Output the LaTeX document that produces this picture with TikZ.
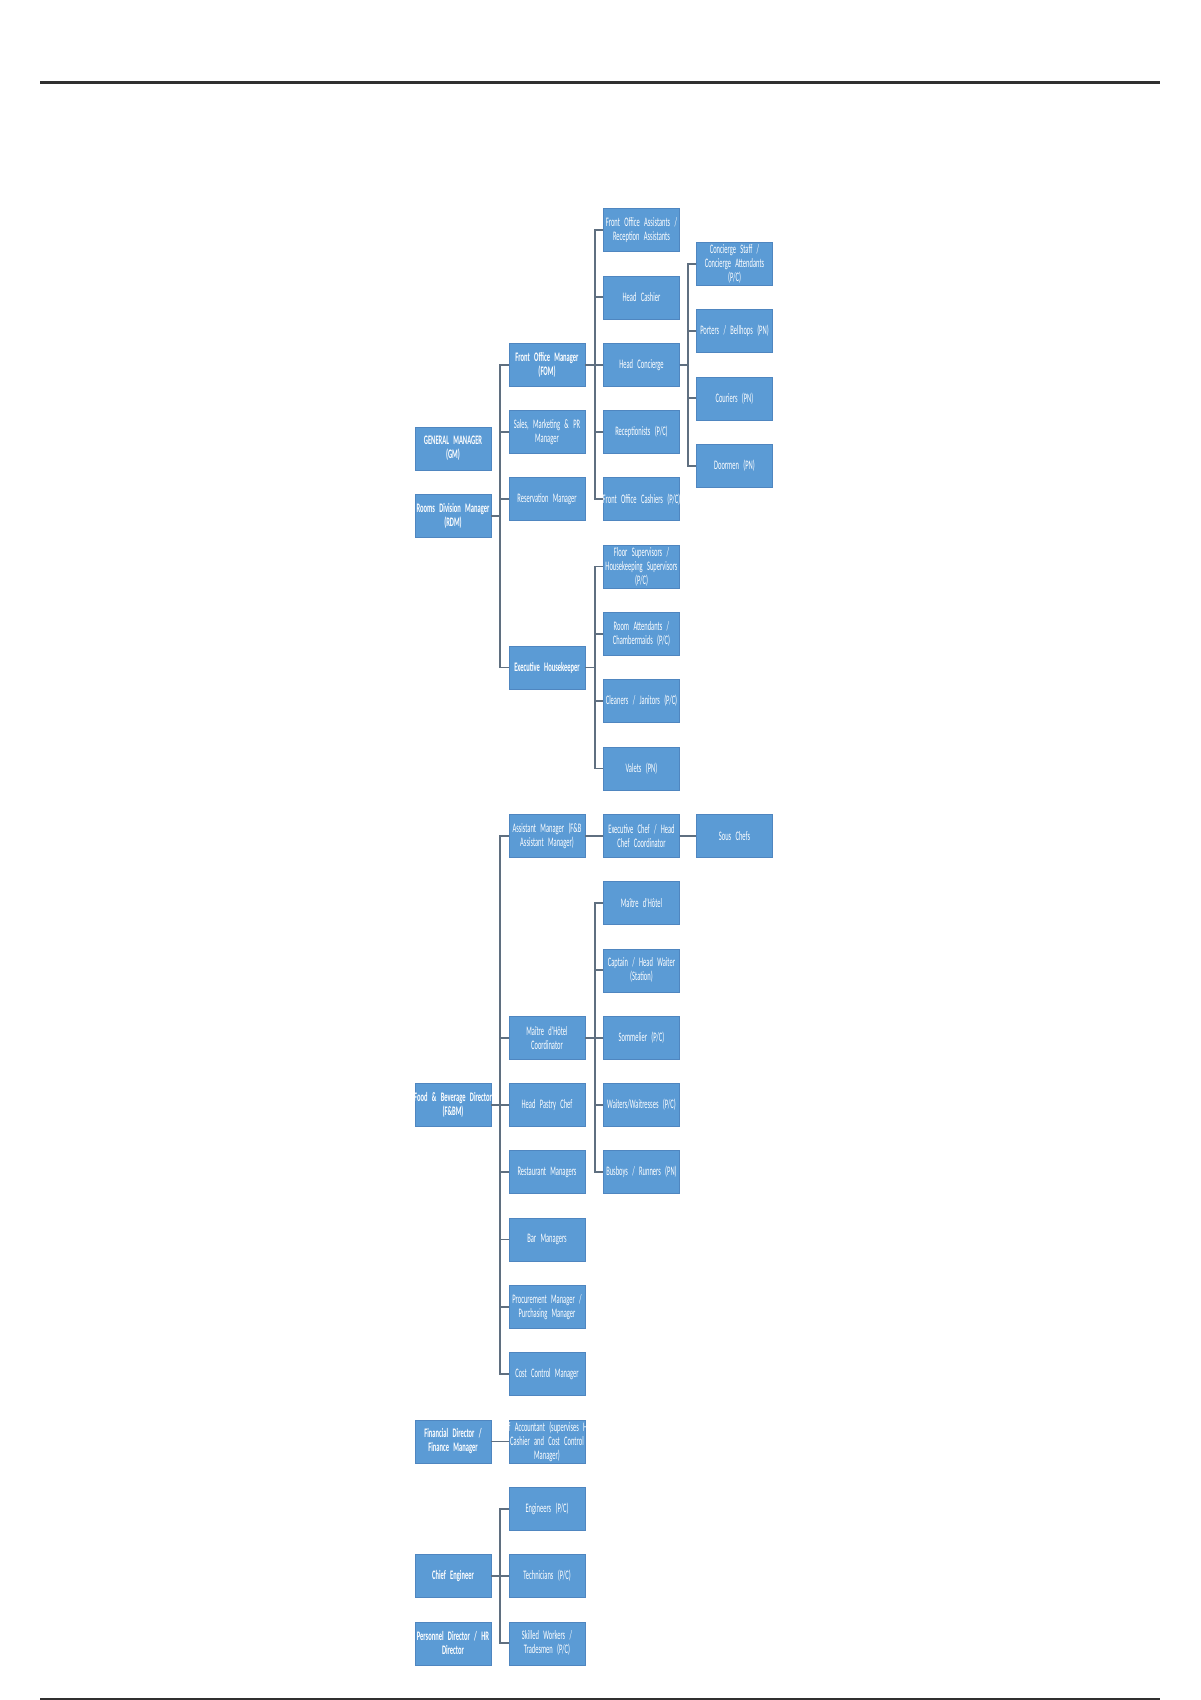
\documentclass[tikz,border=0pt]{standalone}
\usepackage{fontspec}
\newfontfamily\orgfont[FakeStretch=0.5]{Carlito}
\newcommand{\orgsize}{\fontsize{13}{14}\selectfont\fontdimen2\font=1.6pt\fontdimen3\font=0.4pt\fontdimen4\font=0.3pt\hyphenpenalty=10000}
\newcommand{\fitline}[1]{\makebox[\linewidth]{#1}}
\definecolor{boxblue}{HTML}{5B9BD5}
\definecolor{boxedge}{HTML}{4F86C0}
\definecolor{linkgray}{HTML}{5F6F80}
\definecolor{rulegray}{HTML}{303030}
\begin{document}
\begin{tikzpicture}[x=1pt,y=-1pt,
  post/.style={rectangle,fill=boxblue,draw=boxedge,line width=0.5pt,
    minimum width=76pt,minimum height=43pt,inner sep=0.5pt,text width=75pt,
    align=center,text=white,font=\orgfont\orgsize},
  head/.style={post,font=\orgfont\bfseries\orgsize},
  link/.style={draw=linkgray,line width=1.8pt}]
\useasboundingbox (0,0) rectangle (1200,1700);
%\draw[step=100,gray,very thin] (0,0) grid (1200,1700); %background grid

% page rules
\draw[rulegray,line width=3pt] (40,82) -- (1160,82);
\draw[rulegray,line width=3pt] (40,1699) -- (1160,1699);

% rooms division
\node[head] (gm) at (453,448.7) {GENERAL MANAGER\\(GM)};
\node[head] (rdm) at (453,516) {\fitline{Rooms Division Manager}\\(RDM)};

\node[head] (fom) at (547,364.6) {Front Office Manager\\(FOM)};
\node[post] (sales) at (547,431.9) {Sales, Marketing \& PR\\Manager};
\node[post] (resv) at (547,499.2) {Reservation Manager};
\node[head] (exhk) at (547,667.5) {\fitline{Executive Housekeeper}};

\node[post] (foa) at (641.5,230) {Front Office Assistants /\\Reception Assistants};
\node[post] (hcash) at (641.5,297.3) {Head Cashier};
\node[post] (hcon) at (641.5,364.6) {Head Concierge};
\node[post] (recp) at (641.5,431.9) {Receptionists (P/C)};
\node[post] (focash) at (641.5,499.2) {\fitline{Front Office Cashiers (P/C)}};

\node[post] (cstaff) at (734.5,263.7) {Concierge Staff /\\Concierge Attendants\\(P/C)};
\node[post] (port) at (734.5,331) {Porters / Bellhops (PN)};
\node[post] (cour) at (734.5,398.3) {Couriers (PN)};
\node[post] (door) at (734.5,465.6) {Doormen (PN)};

\node[post] (flsup) at (641.5,566.5) {Floor Supervisors /\\\fitline{Housekeeping Supervisors}\\(P/C)};
\node[post] (room) at (641.5,633.8) {Room Attendants /\\Chambermaids (P/C)};
\node[post] (clean) at (641.5,701.1) {\fitline{Cleaners / Janitors (P/C)}};
\node[post] (valet) at (641.5,768.4) {Valets (PN)};

\draw[link] (rdm.east) -- ++(9,0) |- (fom.west);
\draw[link] (rdm.east) -- ++(9,0) |- (sales.west);
\draw[link] (rdm.east) -- ++(9,0) |- (resv.west);
\draw[link] (rdm.east) -- ++(9,0) |- (exhk.west);

\draw[link] (fom.east) -- ++(9.5,0) |- (foa.west);
\draw[link] (fom.east) -- ++(9.5,0) |- (hcash.west);
\draw[link] (fom.east) -- (hcon.west);
\draw[link] (fom.east) -- ++(9.5,0) |- (recp.west);
\draw[link] (fom.east) -- ++(9.5,0) |- (focash.west);

\draw[link] (hcon.east) -- ++(8.5,0) |- (cstaff.west);
\draw[link] (hcon.east) -- ++(8.5,0) |- (port.west);
\draw[link] (hcon.east) -- ++(8.5,0) |- (cour.west);
\draw[link] (hcon.east) -- ++(8.5,0) |- (door.west);

\draw[link] (exhk.east) -- ++(9.5,0) |- (flsup.west);
\draw[link] (exhk.east) -- ++(9.5,0) |- (room.west);
\draw[link] (exhk.east) -- ++(9.5,0) |- (clean.west);
\draw[link] (exhk.east) -- ++(9.5,0) |- (valet.west);

% food and beverage
\node[head] (fbm) at (453,1104.9) {\fitline{Food \& Beverage Director}\\(F\&BM)};

\node[post] (asst) at (547,835.7) {\fitline{Assistant Manager (F\&B}\\Assistant Manager)};
\node[post] (mdhc) at (547,1037.6) {Maître d'Hôtel\\Coordinator};
\node[post] (pastry) at (547,1104.9) {Head Pastry Chef};
\node[post] (rest) at (547,1172.2) {Restaurant Managers};
\node[post] (bar) at (547,1239.5) {Bar Managers};
\node[post] (proc) at (547,1306.8) {\fitline{Procurement Manager /}\\Purchasing Manager};
\node[post] (cost) at (547,1374.1) {Cost Control Manager};

\node[post] (exchef) at (641.5,835.7) {\fitline{Executive Chef / Head}\\Chef Coordinator};
\node[post] (sous) at (734.5,835.7) {Sous Chefs};

\node[post] (maitre) at (641.5,903) {Maître d'Hôtel};
\node[post] (capt) at (641.5,970.3) {\fitline{Captain / Head Waiter}\\(Station)};
\node[post] (somm) at (641.5,1037.6) {Sommelier (P/C)};
\node[post] (wait) at (641.5,1104.9) {\fitline{Waiters/Waitresses (P/C)}};
\node[post] (busb) at (641.5,1172.2) {\fitline{Busboys / Runners (PN)}};

\draw[link] (fbm.east) -- ++(9,0) |- (asst.west);
\draw[link] (fbm.east) -- ++(9,0) |- (mdhc.west);
\draw[link] (fbm.east) -- (pastry.west);
\draw[link] (fbm.east) -- ++(9,0) |- (rest.west);
\draw[link] (fbm.east) -- ++(9,0) |- (bar.west);
\draw[link] (fbm.east) -- ++(9,0) |- (proc.west);
\draw[link] (fbm.east) -- ++(9,0) |- (cost.west);

\draw[link] (asst.east) -- (exchef.west);
\draw[link] (exchef.east) -- (sous.west);

\draw[link] (mdhc.east) -- ++(9.5,0) |- (maitre.west);
\draw[link] (mdhc.east) -- ++(9.5,0) |- (capt.west);
\draw[link] (mdhc.east) -- (somm.west);
\draw[link] (mdhc.east) -- ++(9.5,0) |- (wait.west);
\draw[link] (mdhc.east) -- ++(9.5,0) |- (busb.west);

% finance, engineering, personnel
\node[head] (find) at (453,1441.4) {Financial Director /\\Finance Manager};
\node[post] (chacc) at (547,1441.4) {\fitline{Chief Accountant (supervises Head}\\\fitline{Cashier and Cost Control}\\Manager)};
\draw[link] (find.east) -- (chacc.west);

\node[head] (cheng) at (453,1576) {Chief Engineer};
\node[head] (pers) at (453,1643.3) {\fitline{Personnel Director / HR}\\Director};

\node[post] (engs) at (547,1508.7) {Engineers (P/C)};
\node[post] (tech) at (547,1576) {Technicians (P/C)};
\node[post] (skill) at (547,1643.3) {Skilled Workers /\\Tradesmen (P/C)};

\draw[link] (cheng.east) -- ++(9,0) |- (engs.west);
\draw[link] (cheng.east) -- (tech.west);
\draw[link] (cheng.east) -- ++(9,0) |- (skill.west);

\end{tikzpicture}
\end{document}
